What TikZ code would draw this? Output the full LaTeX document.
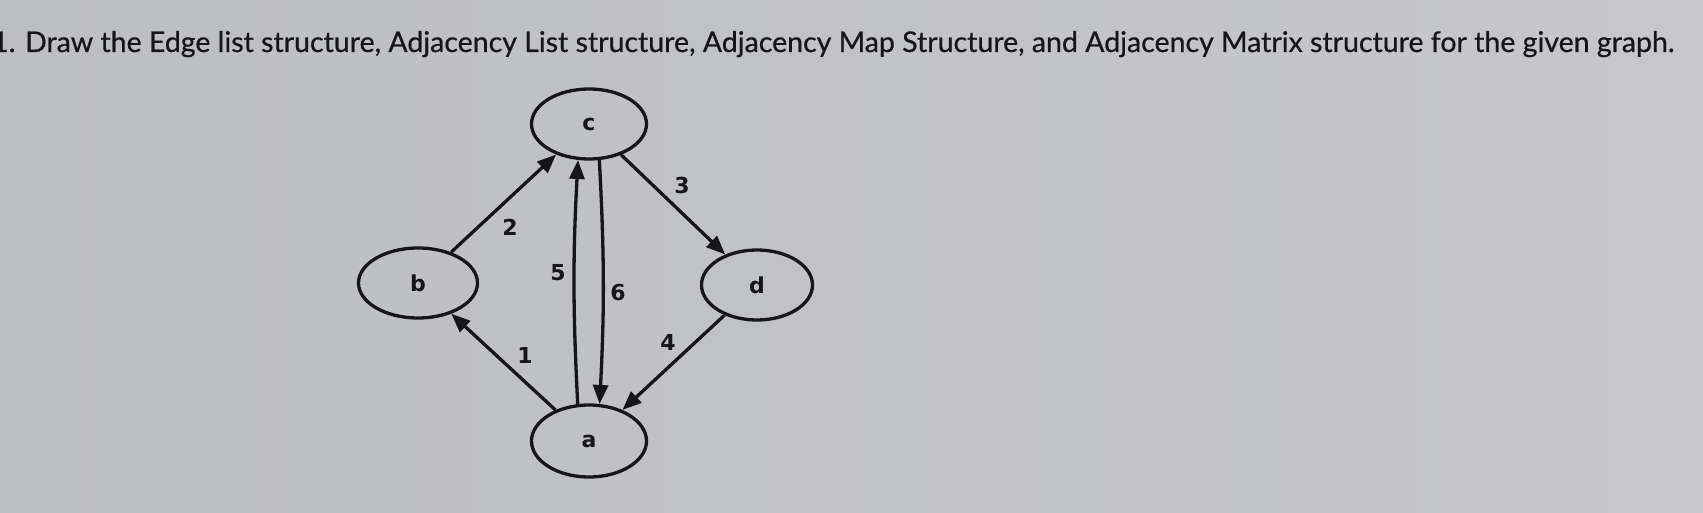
\documentclass[tikz,border=0pt]{standalone}
\usepackage{fontspec}
\usepackage{xcolor}
\usetikzlibrary{shapes.geometric, arrows.meta, positioning}
\newfontfamily\latofont[FakeBold=0.6]{Lato}
\newfontfamily\graphfont{DejaVu Sans}
\definecolor{screenleft}{RGB}{189,190,193}
\definecolor{screenmid}{RGB}{206,206,208}
\definecolor{screenright}{RGB}{199,199,202}
\definecolor{ink}{RGB}{22,22,24}

\begin{document}
\begin{tikzpicture}[x=1pt, y=1pt]
        % Define styles
        \tikzstyle{vertex} = [ellipse, draw=ink, line width=3.3pt, minimum width=115pt, minimum height=70pt, inner sep=0pt, font=\graphfont\bfseries\fontsize{22}{22}\selectfont, text=ink]
        \tikzstyle{arc} = [-{Triangle[length=19pt, width=15pt]}, line width=3.3pt, ink]
        \tikzstyle{weight} = [font=\graphfont\bfseries\fontsize{22}{22}\selectfont, text=ink, inner sep=0pt]
        \tikzstyle{title} = [font=\latofont\fontsize{28.5}{32}\selectfont, text=ink, inner sep=0pt]

        % Screen background
        \shade[left color=screenleft, middle color=screenmid, right color=screenright] (0,0) rectangle (1703,512);
        \useasboundingbox (0,0) rectangle (1703,512);

        % Question
        \node[title, anchor=base west] (question) at (-8,460) {1. Draw the Edge list structure, Adjacency List structure, Adjacency Map Structure, and Adjacency Matrix structure for the given graph.};

        % Vertices
        \node[vertex] (c) at (589,388) {c};
        \node[vertex, minimum width=119pt] (b) at (418,229) {b};
        \node[vertex, minimum width=111pt] (d) at (757,227) {d};
        \node[vertex, minimum height=72pt] (a) at (589,71) {a};

        % Edges
        \draw[arc] (a) -- (b);
        \draw[arc] (b) -- (c);
        \draw[arc] (c) -- (d);
        \draw[arc] (d) -- (a);
        \draw[arc] (a.107) to[bend left=3] (c.253);
        \draw[arc] (c.286) to[bend left=3] (a.74);

        % Edge weights
        \node[weight] (w1) at (525,157) {1};
        \node[weight] (w2) at (510,285) {2};
        \node[weight] (w3) at (682,327) {3};
        \node[weight] (w4) at (668,170) {4};
        \node[weight] (w5) at (558,239) {5};
        \node[weight] (w6) at (618,219) {6};

    \end{tikzpicture}
\end{document}
